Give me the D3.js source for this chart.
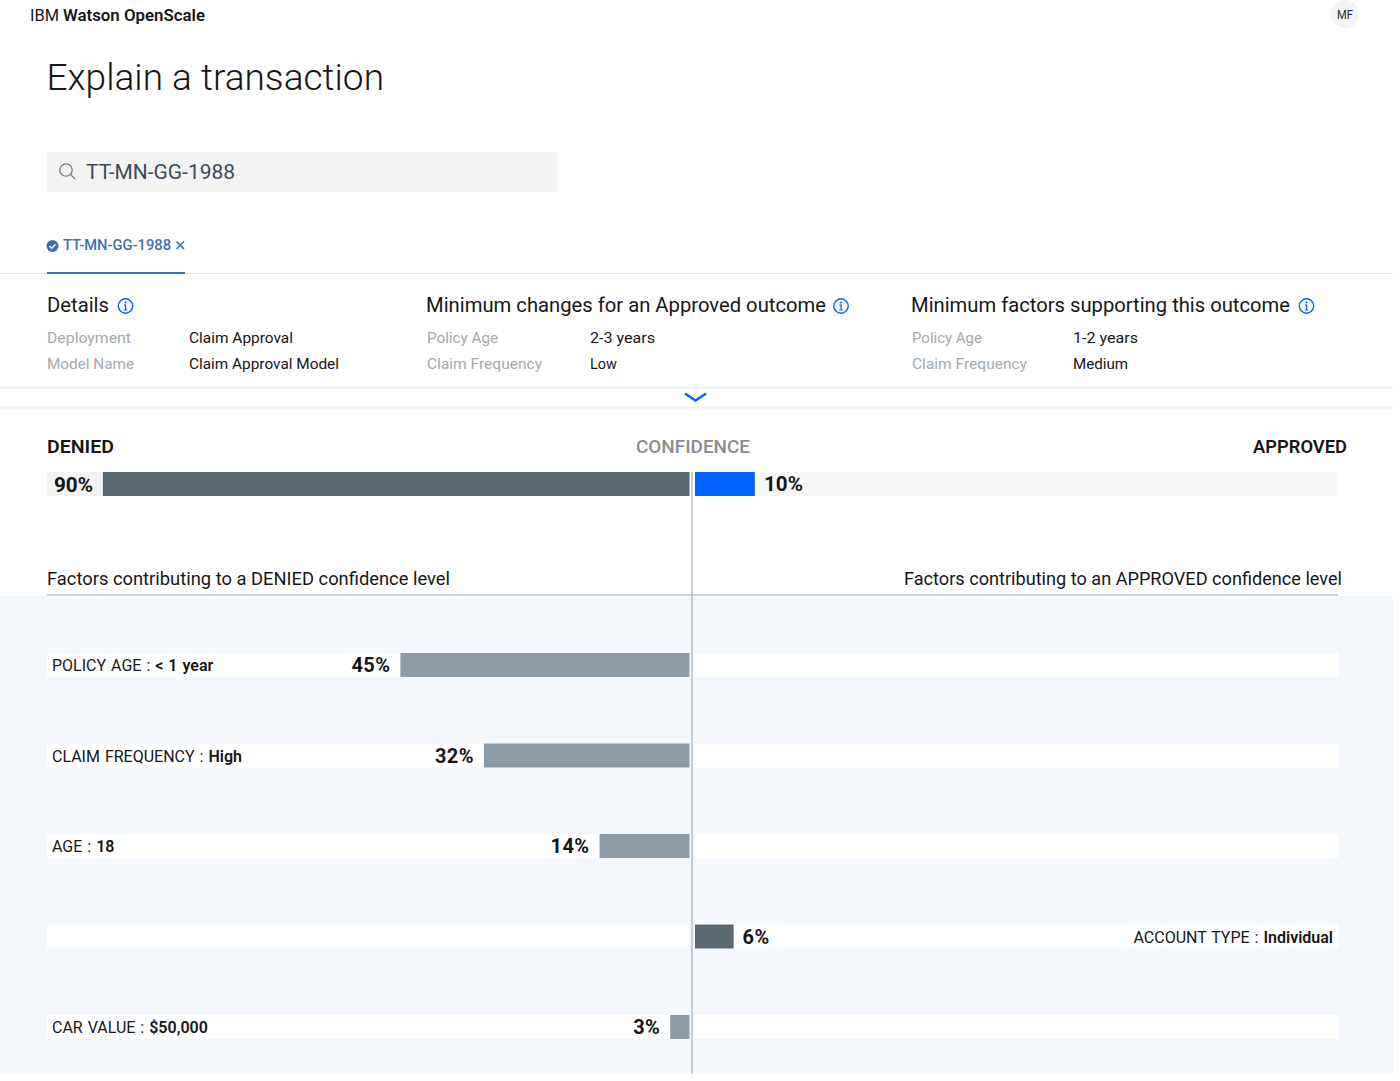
<!DOCTYPE html>
<html>
  <head>
    <title>Explain a transaction</title>
    <script src="https://d3js.org/d3.v7.min.js"></script>
    <style>
      html, body { margin: 0; padding: 0; background: #fff; }
      svg { display: block; }
      text { font-family: Roboto, Arial, sans-serif; fill: #161616; }
    </style>
  </head>
  <body>
    <svg id="main" width="1400" height="1081"></svg>
    <script>
      // chart values
      var outcomes = ['DENIED', 'APPROVED'];
      var outcomeLabels = ['90%', '10%'];
      var outcomeBars = [91.3, 9.3]; // bars are drawn a bit off from the rounded labels

      var factorNames = ['POLICY AGE', 'CLAIM FREQUENCY', 'AGE', 'ACCOUNT TYPE', 'CAR VALUE'];
      var factorValues = ['< 1 year', 'High', '18', 'Individual', '$50,000'];
      var factorSides = ['DENIED', 'DENIED', 'DENIED', 'APPROVED', 'DENIED'];
      var factorPercents = [45, 32, 14, 6, 3];

      var detailLabels = ['Deployment', 'Model Name'];
      var detailValues = ['Claim Approval', 'Claim Approval Model'];
      var changeLabels = ['Policy Age', 'Claim Frequency'];
      var changeValues = ['2-3 years', 'Low'];
      var supportLabels = ['Policy Age', 'Claim Frequency'];
      var supportValues = ['1-2 years', 'Medium'];

      var svg = d3.select('#main');
      var BLUE = '#0062ff';
      var PAGE_W = 1393; // the screenshot stops short of the window

      // scales: both sides grow out from the centre line
      var xDenied = d3.scaleLinear().domain([0, 100]).range([689.5, 47]);
      var xApproved = d3.scaleLinear().domain([0, 100]).range([695, 1338]);
      var yRow = d3.scaleBand().domain(factorNames).range([653, 1039]).paddingInner(0.735);

      function label(x, y, str, size, opts)
      {
        opts = opts || {};
        var t = svg.append('text')
          .attr('x', x).attr('y', y)
          .style('font-size', size + 'px')
          .style('font-weight', opts.weight || 400)
          .style('fill', opts.fill || '#161616')
          .text(str);
        if (opts.width) {
          t.attr('textLength', opts.width).attr('lengthAdjust', 'spacingAndGlyphs');
        }
        return t;
      }

      function rule(x1, x2, y, color, w)
      {
        svg.append('line')
          .attr('x1', x1).attr('x2', x2).attr('y1', y).attr('y2', y)
          .attr('stroke', color).attr('stroke-width', w);
      }

      function infoIcon(cx, cy)
      {
        svg.append('circle').attr('cx', cx).attr('cy', cy).attr('r', 7.2)
          .attr('fill', 'none').attr('stroke', BLUE).attr('stroke-width', 1.4);
        svg.append('circle').attr('cx', cx).attr('cy', cy - 3.4).attr('r', 1).attr('fill', BLUE);
        svg.append('path').attr('d', 'M' + (cx - 1.5) + ' ' + (cy - 0.8) + 'h1.6v4.8M' + (cx - 1.8) + ' ' + (cy + 4) + 'h3.6')
          .attr('fill', 'none').attr('stroke', BLUE).attr('stroke-width', 1.2);
      }

      // header
      label(30, 21, 'IBM', 16, { width: 29 });
      label(63, 21, 'Watson OpenScale', 16, { weight: 600, width: 142 });
      svg.append('circle').attr('cx', 1345).attr('cy', 14).attr('r', 14).attr('fill', '#f3f3f3');
      label(1337, 18.5, 'MF', 13, { width: 16, fill: '#262626' });
      label(46.5, 90, 'Explain a transaction', 36, { weight: 300, width: 337.5 });

      // search box
      svg.append('rect').attr('x', 47).attr('y', 152).attr('width', 510).attr('height', 40).attr('fill', '#f3f3f3');
      svg.append('circle').attr('cx', 66).attr('cy', 170).attr('r', 6.2)
        .attr('fill', 'none').attr('stroke', '#6f7b85').attr('stroke-width', 1.3);
      svg.append('line').attr('x1', 70.5).attr('y1', 174.5).attr('x2', 75).attr('y2', 179)
        .attr('stroke', '#6f7b85').attr('stroke-width', 1.3);
      label(86, 179, 'TT-MN-GG-1988', 21, { fill: '#3d4a57', width: 149 });

      // tab
      svg.append('circle').attr('cx', 52.5).attr('cy', 246).attr('r', 6).attr('fill', '#3d70b2');
      svg.append('path').attr('d', 'M49.5 246l2.2 2.2 3.8-4').attr('fill', 'none').attr('stroke', '#fff').attr('stroke-width', 1.3);
      label(63, 250, 'TT-MN-GG-1988', 14, { weight: 500, fill: '#3d70b2', width: 108 });
      svg.append('path').attr('d', 'M176.5 241.5l7.5 7.5M184 241.5l-7.5 7.5').attr('fill', 'none').attr('stroke', '#2f6fd0').attr('stroke-width', 1.6);
      rule(0, PAGE_W, 273.5, '#e4e6e8', 1);
      rule(47, 185, 273, '#3d70b2', 2);

      // detail columns
      label(47, 312, 'Details', 20, { width: 62 });
      infoIcon(125.5, 306);
      label(426, 312, 'Minimum changes for an Approved outcome', 20, { width: 400 });
      infoIcon(841, 306);
      label(911, 312, 'Minimum factors supporting this outcome', 20, { width: 379 });
      infoIcon(1306.5, 306);

      var GREY = '#a3a8ad';
      var detailWidths = [[84, 104], [87, 150]];
      var changeWidths = [[71, 65], [115, 27]];
      var supportWidths = [[70, 65], [115, 55]];
      [343, 369].forEach(function(y, i) {
        label(47, y, detailLabels[i], 15, { fill: GREY, width: detailWidths[i][0] });
        label(189, y, detailValues[i], 15, { width: detailWidths[i][1] });
        label(427, y, changeLabels[i], 15, { fill: GREY, width: changeWidths[i][0] });
        label(590, y, changeValues[i], 15, { width: changeWidths[i][1] });
        label(912, y, supportLabels[i], 15, { fill: GREY, width: supportWidths[i][0] });
        label(1073, y, supportValues[i], 15, { width: supportWidths[i][1] });
      });

      rule(0, PAGE_W, 387.5, '#f0f1f2', 2);
      rule(0, PAGE_W, 407.5, '#f0f1f2', 2);
      svg.append('path').attr('d', 'M685 393.5l10.5 7 10.5-7').attr('fill', 'none').attr('stroke', BLUE).attr('stroke-width', 2.4);

      // factor panel background goes under everything below
      svg.append('rect').attr('x', 0).attr('y', 596).attr('width', PAGE_W).attr('height', 477.7).attr('fill', '#f4f7fb');

      // confidence summary
      label(47, 453, outcomes[0], 18, { weight: 600, width: 67 });
      label(636, 453, 'CONFIDENCE', 18, { weight: 500, fill: '#8c8c8c', width: 114 });
      label(1253, 453, outcomes[1], 18, { weight: 600, width: 94 });

      svg.append('rect').attr('x', xDenied(100)).attr('y', 472)
        .attr('width', xDenied(0) - xDenied(100)).attr('height', 24).attr('fill', '#f3f3f3');
      svg.append('rect').attr('x', xApproved(0)).attr('y', 472)
        .attr('width', xApproved(100) - xApproved(0)).attr('height', 24).attr('fill', '#f7f7f7');
      svg.append('rect').attr('x', xDenied(outcomeBars[0])).attr('y', 472)
        .attr('width', xDenied(0) - xDenied(outcomeBars[0])).attr('height', 24).attr('fill', '#5a6872');
      svg.append('rect').attr('x', xApproved(0)).attr('y', 472)
        .attr('width', xApproved(outcomeBars[1]) - xApproved(0)).attr('height', 24).attr('fill', BLUE);
      label(54, 491.5, outcomeLabels[0], 20, { weight: 700, width: 39 });
      label(764, 490.5, outcomeLabels[1], 20, { weight: 700, width: 39 });

      label(47, 585, 'Factors contributing to a DENIED confidence level', 18.5, { width: 403 });
      label(904, 585, 'Factors contributing to an APPROVED confidence level', 18.5, { width: 438 });
      rule(47, 1338, 595, '#97a4ae', 1);

      // factor rows
      var rows = svg.append('g').selectAll('g')
        .data(factorNames.map(function(d, i) {
          return { name: d, value: factorValues[i], side: factorSides[i], pct: factorPercents[i] };
        }))
        .enter().append('g');

      rows.append('rect')
        .attr('x', xDenied(100)).attr('y', function(d) { return yRow(d.name); })
        .attr('width', xDenied(0) - xDenied(100)).attr('height', yRow.bandwidth()).attr('fill', '#fff');
      rows.append('rect')
        .attr('x', xApproved(0)).attr('y', function(d) { return yRow(d.name); })
        .attr('width', xApproved(100) - xApproved(0)).attr('height', yRow.bandwidth()).attr('fill', '#fff');

      rows.append('rect')
        .attr('x', function(d) { return d.side == 'DENIED' ? xDenied(d.pct) : xApproved(0); })
        .attr('y', function(d) { return yRow(d.name); })
        .attr('width', function(d) {
          return d.side == 'DENIED' ? xDenied(0) - xDenied(d.pct) : xApproved(d.pct) - xApproved(0);
        })
        .attr('height', yRow.bandwidth())
        .attr('fill', function(d) { return d.side == 'DENIED' ? '#8d9ba6' : '#5a6872'; });

      rows.append('text')
        .attr('x', function(d) { return d.side == 'DENIED' ? xDenied(d.pct) - 10 : xApproved(d.pct) + 9; })
        .attr('y', function(d) { return yRow(d.name) + 19; })
        .attr('text-anchor', function(d) { return d.side == 'DENIED' ? 'end' : 'start'; })
        .style('font-size', '20px').style('font-weight', 700)
        .style('letter-spacing', '0.4px')
        .text(function(d) { return d.pct + '%'; });

      var rowText = rows.append('text')
        .attr('x', function(d) { return d.side == 'DENIED' ? 52 : 1333; })
        .attr('y', function(d) { return yRow(d.name) + 18; })
        .attr('text-anchor', function(d) { return d.side == 'DENIED' ? 'start' : 'end'; })
        .style('font-size', '16px')
        .style('word-spacing', '1px');
      rowText.append('tspan').text(function(d) { return d.name + ' : '; });
      rowText.append('tspan').style('font-weight', 600).text(function(d) { return d.value; });

      // centre line
      svg.append('line')
        .attr('x1', 692).attr('x2', 692).attr('y1', 472).attr('y2', 1073.7)
        .attr('stroke', '#b4c0c8').attr('stroke-width', 1.5);
    </script>
  </body>
</html>
